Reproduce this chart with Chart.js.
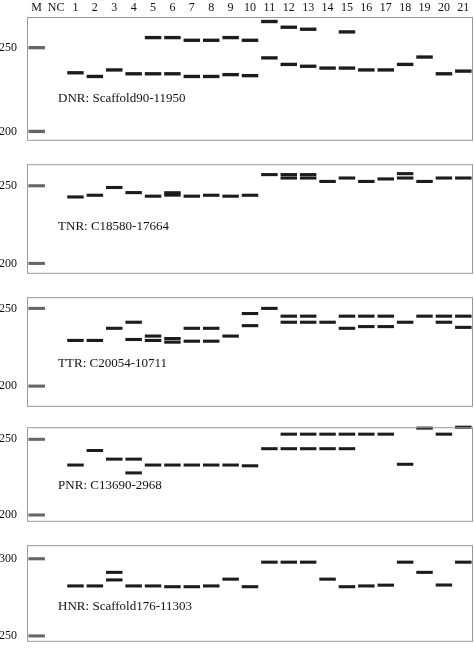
<!DOCTYPE html>
<html>
<head>
<meta charset="utf-8">
<script src="https://cdn.jsdelivr.net/npm/chart.js@4.4.1/dist/chart.umd.min.js"></script>
<style>
  body { margin: 0; background: #fff; width: 474px; height: 651px; position: relative; overflow: hidden; }
  canvas { position: absolute; left: 0; }
</style>
</head>
<body>
<canvas id="p0" width="474" height="150" style="top:0"></canvas>
<canvas id="p1" width="474" height="128" style="top:155px"></canvas>
<canvas id="p2" width="474" height="128" style="top:288px"></canvas>
<canvas id="p3" width="474" height="113" style="top:418px"></canvas>
<canvas id="p4" width="474" height="115" style="top:536px"></canvas>
<script>
const lanes = ['M','NC','1','2','3','4','5','6','7','8','9','10','11','12','13','14','15','16','17','18','19','20','21'];

// band sizes read per panel (null = no band)
const dnrUpper = [250,null,null,null,null,null,256,256,254.4,254.4,256,254.4,265.6,262.2,261,null,259.4,null,null,null,244.4,null,null];
const dnrLower = [200,null,235,232.8,236.7,234.4,234.4,234.4,232.8,232.8,233.9,233.3,243.9,240,238.9,237.8,237.8,236.7,236.7,240,null,234.4,236];

const tnrUpper = [250,null,242.8,243.9,248.9,245.6,243.3,245.5,243.3,243.9,243.3,243.9,257.2,257.2,257.2,252.8,255,252.8,254.4,257.8,252.8,255,255];
const tnrLower = [200,null,null,null,null,null,null,244,null,null,null,null,null,255,255,null,null,null,null,255,null,null,null];

const ttrUpper = [250,null,229.4,229.4,237.2,241.1,232.2,230.6,237.2,237.2,232.2,246.7,250,245,245,241.1,245,245,245,241.1,245,245,245];
const ttrLower = [200,null,null,null,null,230,229.4,228.3,228.9,228.9,null,238.9,null,241.1,241.1,null,237.2,238.3,238.3,null,null,241.1,237.8];

const pnrUpper = [250,null,233,242.6,236.9,236.9,233,233,233,233,233,232.5,243.8,253.4,253.4,253.4,253.4,253.4,253.4,233.5,257.4,253.4,258];
const pnrLower = [200,null,null,null,null,227.8,null,null,null,null,null,null,null,243.8,243.8,243.8,243.8,null,null,null,null,null,null];

const hnrUpper = [300,null,282.4,282.4,291.2,282.4,282.4,281.9,281.9,282.4,286.8,281.9,297.8,297.8,297.8,286.8,281.9,282.4,282.9,297.8,291.2,283,297.8];
const hnrLower = [250,null,null,null,286.3,null,null,null,null,null,null,null,null,null,null,null,null,null,null,null,null,null,null];

const panelNames = ['DNR: Scaffold90-11950','TNR: C18580-17664','TTR: C20054-10711','PNR: C13690-2968','HNR: Scaffold176-11303'];
const panelTicks = [[200,250],[200,250],[200,250],[200,250],[250,300]];

const panels = [
  { id: 'p0', bands: [dnrUpper, dnrLower], min: 194.4, max: 268.3, textY: 219.4, top: true },
  { id: 'p1', bands: [tnrUpper, tnrLower], min: 193.3, max: 263.9, textY: 223.9 },
  { id: 'p2', bands: [ttrUpper, ttrLower], min: 186.7, max: 257.2, textY: 214.4 },
  { id: 'p3', bands: [pnrUpper, pnrLower], min: 195.5, max: 258,   textY: 219.3, padTop: 2 },
  { id: 'p4', bands: [hnrUpper, hnrLower], min: 246.2, max: 308.8, textY: 269.2 },
];

const band = v => v == null ? null : [v - 1.0, v + 1.0];
const serif = '"Liberation Serif", "DejaVu Serif", serif';

const boxPlugin = {
  id: 'box',
  afterDraw(chart, args, opts) {
    const { ctx, chartArea: a, scales } = chart;
    ctx.save();
    ctx.strokeStyle = '#999';
    ctx.lineWidth = 1;
    ctx.strokeRect(a.left + 0.5, a.top + 0.5, a.right - a.left - 1, a.bottom - a.top - 1);
    ctx.fillStyle = '#111';
    ctx.font = '13px ' + serif;
    ctx.textBaseline = 'middle';
    ctx.fillText(opts.name, scales.x.getPixelForValue(1) + 2, scales.y.getPixelForValue(opts.textY));
    if (opts.top) {
      ctx.font = '12px ' + serif;
      ctx.textAlign = 'center';
      lanes.forEach((l, j) => ctx.fillText(l, scales.x.getPixelForValue(j), 8));
    }
    ctx.restore();
  }
};

panels.forEach((p, i) => {
  new Chart(document.getElementById(p.id), {
    type: 'bar',
    data: {
      labels: lanes,
      datasets: p.bands.map(arr => ({
        data: arr.map(band),
        backgroundColor: lanes.map((l, j) => j === 0 ? '#666' : '#1c1c1c'),
        barPercentage: 0.85,
        categoryPercentage: 1,
        grouped: false,
        borderSkipped: false,
        clip: false,
      }))
    },
    options: {
      responsive: false,
      animation: false,
      layout: { padding: { right: 1, top: p.top ? 17 : (p.padTop || 0), bottom: 0, left: 0 } },
      plugins: {
        legend: { display: false },
        tooltip: { enabled: false },
        box: { name: panelNames[i], textY: p.textY, top: !!p.top }
      },
      scales: {
        x: { display: false },
        y: {
          min: p.min, max: p.max,
          grid: { display: false },
          border: { display: false },
          afterBuildTicks: s => { s.ticks = panelTicks[i].map(v => ({ value: v })); },
          ticks: { color: '#111', font: { family: serif, size: 12 }, padding: 2 },
          afterFit: s => { s.width = 27; }
        }
      }
    },
    plugins: [boxPlugin]
  });
});
</script>
</body>
</html>
